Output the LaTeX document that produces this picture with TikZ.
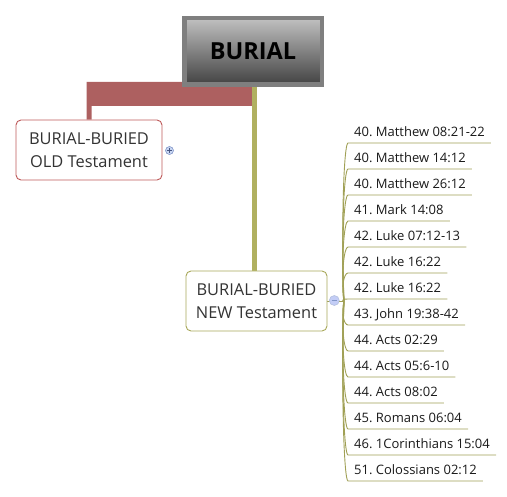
\documentclass[tikz,border=0pt]{standalone}
\usepackage{fontspec}
\setmainfont{Open Sans}
\frenchspacing
\pgfdeclarelayer{bg}
\pgfsetlayers{bg,main}
\definecolor{redconn}{RGB}{173,96,96}
\definecolor{oliveconn}{RGB}{176,176,96}
\definecolor{oldborder}{RGB}{190,90,90}
\definecolor{newborder}{RGB}{168,168,90}
\definecolor{branchc}{RGB}{160,160,85}
\definecolor{nodetext}{RGB}{51,51,51}
\definecolor{rootborder}{RGB}{127,127,127}
\definecolor{roottop}{RGB}{192,192,192}
\definecolor{rootbottom}{RGB}{66,66,66}
\definecolor{iconfill}{RGB}{200,214,242}
\definecolor{icondraw}{RGB}{130,150,200}
\definecolor{iconsign}{RGB}{70,85,130}
\begin{document}
\begin{tikzpicture}[x=1pt,y=-1pt,
  rootbox/.style={draw=rootborder, line width=4.5pt, top color=roottop, bottom color=rootbottom,
    minimum width=137.5pt, minimum height=66.5pt, inner sep=0pt,
    font=\fontsize{23.5}{28}\selectfont\bfseries, text=black},
  subbox/.style={rounded corners=5pt, line width=0.9pt, fill=white, minimum width=#1,
    minimum height=60pt, inner sep=0pt, align=center,
    font=\fontsize{16.4}{23}\selectfont, text=nodetext},
  leaf/.style={anchor=south west, inner xsep=6pt, inner ysep=6.3pt, text depth=0pt,
    font=\fontsize{13}{15}\selectfont\frenchspacing, text=black!90},
  branch/.style={draw=branchc, line width=0.9pt},
  icon/.style={circle, draw=icondraw, fill=iconfill, inner sep=0pt, line width=0.6pt},
  iconsign/.style={draw=iconsign, line width=0.8pt}
]
\useasboundingbox (0,0) rectangle (507,497);

\node[rootbox] (root) at (253,51.5) {BURIAL};
\node[subbox=146pt, draw=oldborder] (old) at (89,150) {BURIAL-BURIED\\OLD Testament};
\node[subbox=141pt, draw=newborder] (new) at (256.5,301) {BURIAL-BURIED\\NEW Testament};

\coordinate (hub) at (344,301);

\begin{pgfonlayer}{bg}
  \fill[redconn] ([xshift=-2.5pt]old.north) |- ([yshift=5pt]root.south)
    -- ([yshift=-19pt]root.south) -| ([xshift=2.5pt]old.north) -- cycle;
  \coordinate (ot) at ([xshift=1.5pt]root.south);
  \draw[oliveconn, line width=5pt] (ot) -- (ot |- new.north);
  \draw[branch] (new.east) -- (hub);
\end{pgfonlayer}

\foreach \t [count=\i] in {40. Matthew 08:21-22, 40. Matthew 14:12, 40. Matthew 26:12,
  41. Mark 14:08, 42. Luke 07:12-13, 42. Luke 16:22, 42. Luke 16:22, 43. John 19:38-42,
  44. Acts 02:29, 44. Acts 05:6-10, 44. Acts 08:02, 45. Romans 06:04,
  46. 1Corinthians 15:04, 51. Colossians 02:12} {
  \pgfmathsetmacro\yy{143+26*(\i-1)}
  \node[leaf] (l\i) at (348,\yy) {\t};
  \draw[branch] (hub) .. controls (341,{(301+\yy)/2}) and (344,\yy) .. (l\i.south west) -- (l\i.south east);
}

\node[icon, minimum size=8pt] (plus) at (169.5,150.5) {};
\draw[iconsign] ([xshift=-2.3pt]plus.center) -- ([xshift=2.3pt]plus.center);
\draw[iconsign] ([yshift=-2.3pt]plus.center) -- ([yshift=2.3pt]plus.center);

\node[icon, minimum size=10pt, draw=icondraw!60, fill=iconfill!90!blue!80] (minus) at (334.3,300.5) {};
\draw[iconsign, draw=icondraw] ([xshift=-2.8pt]minus.center) -- ([xshift=2.8pt]minus.center);
\end{tikzpicture}
\end{document}
